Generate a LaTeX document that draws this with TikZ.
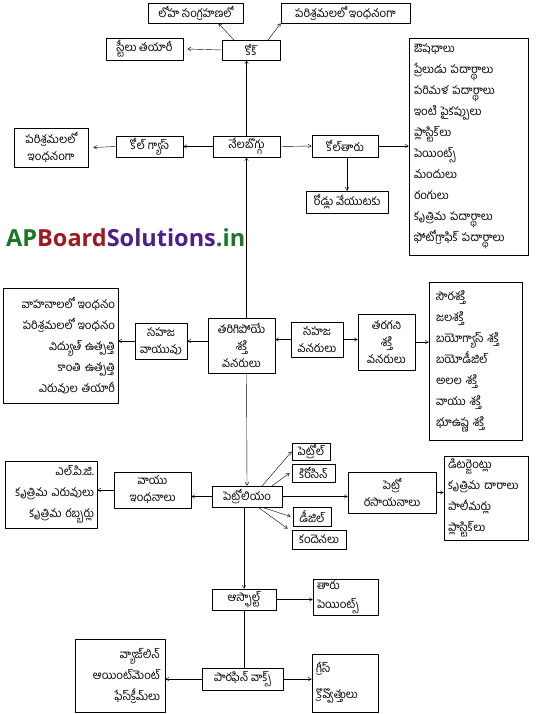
\documentclass[tikz,border=0pt]{standalone}
\usepackage{fontspec}
\newfontfamily\telugu[Script=Telugu]{Hind Guntur}
\newfontfamily\wmfont{Open Sans}
\usetikzlibrary{arrows}
\definecolor{apgreen}{RGB}{28,118,40}
\definecolor{apred}{RGB}{160,24,34}
\definecolor{appurple}{RGB}{78,30,140}

\begin{document}
\begin{tikzpicture}[line cap=round,line join=round,>=angle 60,x=1pt,y=-1pt,
  blk/.style={draw,line width=0.7pt,inner sep=1.5pt,font=\telugu\fontsize{11.5}{17}\selectfont},
  lst/.style={blk,inner xsep=4pt,font=\telugu\fontsize{11.5}{21}\selectfont},
  con/.style={->,line width=0.4pt}]
\useasboundingbox (0,0) rectangle (537,714);

% coal
\node[blk,minimum width=95pt,minimum height=20pt] (loha) at (195.5,13) {లోహ సంగ్రహణలో};
\node[blk,minimum width=129pt,minimum height=20pt] (ind1) at (345.5,13) {పరిశ్రమలలో ఇంధనంగా};
\node[blk,minimum width=77pt,minimum height=22pt] (steel) at (144.5,49) {స్టీలు తయారీ};
\node[blk,minimum width=58pt,minimum height=20pt] (coke) at (251,50) {కోక్};
\node[blk,minimum width=74pt,minimum height=39pt,align=center] (ind2) at (51,147.5) {పరిశ్రమలలో\\ఇంధనంగా};
\node[blk,minimum width=67pt,minimum height=21pt] (coalgas) at (149.5,146.5) {కోల్ గ్యాస్};
\node[blk,minimum width=67pt,minimum height=21pt] (nela) at (246.5,146.5) {నేలబొగ్గు};
\node[blk,minimum width=66pt,minimum height=22pt] (koltar) at (345,146) {కోల్‌తారు};
\node[blk,minimum width=82pt,minimum height=22pt] (roads) at (347,202) {రోడ్లు వేయుటకు};
\node[lst,inner xsep=5pt,text width=109pt,minimum height=217pt,align=left] (tarlist) at (468.5,146.5)
  {ఔషధాలు\\ప్రేలుడు పదార్థాలు\\పరిమళ పదార్థాలు\\ఇంటి పైకప్పులు\\ప్లాస్టిక్‌లు\\పెయింట్స్\\మందులు\\రంగులు\\కృత్రిమ పదార్థాలు\\ఫోటోగ్రాఫిక్ పదార్థాలు};

\node[anchor=west,inner sep=0pt,font=\wmfont\bfseries\fontsize{23.5}{23.5}\selectfont] (wm) at (6,238)
  {\textcolor{apgreen}{AP}\textcolor{apred}{Board}\textcolor{appurple}{Solutions}\textcolor{apgreen}{.in}};

% energy resources
\node[blk,minimum width=67pt,minimum height=55pt,align=center] (tarigi) at (241.5,345.5) {తరిగిపోయే\\శక్తి\\వనరులు};
\node[blk,minimum width=52pt,minimum height=36pt,align=center] (vayuvu) at (161,341) {సహజ\\వాయువు};
\node[lst,inner xsep=3pt,text width=109pt,minimum height=115pt,align=right] (vayulist) at (60.5,345.5)
  {వాహనాలలో ఇంధనం\\పరిశ్రమలలో ఇంధనం\\విద్యుత్ ఉత్పత్తి\\కాంతి ఉత్పత్తి\\ఎరువుల తయారీ};
\node[blk,minimum width=52pt,minimum height=35pt,align=center] (sahaja) at (317,339.5) {సహజ\\వనరులు};
\node[blk,minimum width=57pt,minimum height=56pt,align=center] (taragani) at (386.5,342) {తరగని\\శక్తి\\వనరులు};
\node[lst,inner xsep=7pt,text width=79pt,minimum height=158pt,align=left] (taraganilist) at (475.5,361)
  {సౌరశక్తి\\జలశక్తి\\బయోగ్యాస్ శక్తి\\బయోడీజిల్\\అలల శక్తి\\వాయు శక్తి\\భూఉష్ణ శక్తి};

% petroleum
\node[blk,minimum width=70pt,minimum height=21pt] (petroleum) at (247,496.5) {పెట్రోలియం};
\node[blk,minimum width=77pt,minimum height=36pt,align=center] (vayuind) at (152.5,490) {వాయు\\ఇంధనాలు};
\node[lst,inner xsep=3pt,text width=86pt,minimum height=67pt,align=right] (vayuindlist) at (51,494.5)
  {ఎల్.పి.జి.\\కృత్రిమ ఎరువులు\\కృత్రిమ రబ్బర్లు};
\node[blk,minimum width=38pt,minimum height=17pt,inner sep=1pt] (petrol) at (311,451.5) {పెట్రోల్};
\node[blk,minimum width=43pt,minimum height=18pt,inner sep=1pt] (kerosene) at (313.5,473) {కిరోసిన్};
\node[blk,minimum width=38pt,minimum height=19pt,inner sep=1pt] (diesel) at (312,516.5) {డీజిల్};
\node[blk,minimum width=54pt,minimum height=19pt,inner sep=1pt] (lubricant) at (319,539.5) {కందెనలు};
\node[blk,minimum width=88pt,minimum height=41pt,align=center] (petrochem) at (392,492.5) {పెట్రో\\రసాయనాలు};
\node[lst,text width=76pt,minimum height=84pt,align=left] (petrochemlist) at (486,498)
  {డిటర్జెంట్లు\\కృత్రిమ దారాలు\\పాలీమర్లు\\ప్లాస్టిక్‌లు};
\node[blk,minimum width=64pt,minimum height=21pt] (asphalt) at (244,599.5) {ఆస్ఫాల్ట్};
\node[lst,text width=57pt,minimum height=35pt,align=left,font=\telugu\fontsize{11.5}{19}\selectfont] (tarpaint) at (345.5,597.5) {తారు\\పెయింట్స్};
\node[blk,minimum width=81pt,minimum height=22pt] (paraffin) at (242.5,679) {పారఫిన్ వాక్స్};
\node[lst,inner xsep=5pt,text width=80pt,minimum height=73pt,align=right] (paraffinlist) at (120,675.5)
  {వ్యాజ్‌లిన్\\ఆయింట్‌మెంట్\\ఫేస్‌క్రీమ్‌లు};
\node[lst,text width=58pt,minimum height=58pt,align=left,font=\telugu\fontsize{11.5}{26}\selectfont] (grease) at (345,683) {గ్రీస్\\క్రొవ్వొత్తులు};

% connectors
\draw[con] ([xshift=12pt]coke.north west) -- ([xshift=-25pt]loha.south east);
\draw[con] ([xshift=-12pt]coke.north east) -- (ind1.south west);
\draw[con] (coke.west) -- ([xshift=4pt]steel.east);
\draw[con] (nela.north) -- (nela.north |- coke.south);
\draw[con] (nela.west) -- (coalgas.east);
\draw[con] (coalgas.west) -- ([xshift=5pt]ind2.east);
\draw[con] (nela.east) -- (koltar.west);
\draw[con] (koltar.east) -- (koltar.east -| tarlist.west);
\draw[con] (koltar.south -| roads.north) -- (roads.north);
\draw[con] (nela.south |- tarigi.north) -- (nela.south);
\draw[con] (nela.south |- tarigi.south) -- (petroleum.north);
\draw[con] (sahaja.west) -- (sahaja.west -| tarigi.east);
\draw[con] (sahaja.east) -- (sahaja.east -| taragani.west);
\draw[con] (taragani.east) -- (taragani.east -| taraganilist.west);
\draw[con] (tarigi.west |- vayuvu.east) -- (vayuvu.east);
\draw[con] (vayuvu.west) -- (vayuvu.west -| vayulist.east);
\draw[con] (petroleum.west) -- (petroleum.west -| vayuind.east);
\draw[con] (vayuind.west) -- (vayuind.west -| vayuindlist.east);
\draw[con] ([xshift=-20pt]petroleum.north east) -- (petrol.west);
\draw[con] ([xshift=-10pt]petroleum.north east) -- ([xshift=-2pt]kerosene.west);
\draw[con] ([xshift=-20pt]petroleum.south east) -- ([xshift=-2pt]diesel.west);
\draw[con] ([xshift=-24pt]petroleum.south east) -- ([xshift=-4pt,yshift=1pt]lubricant.north west);
\draw[con] (petroleum.east) -- (petroleum.east -| petrochem.west);
\draw[con] (petrochem.east) -- (petrochem.east -| petrochemlist.west);
\draw[con] (asphalt.north |- petroleum.south) -- (asphalt.north);
\draw[con] (asphalt.east) -- (asphalt.east -| tarpaint.west);
\draw[line width=0.4pt] (asphalt.south) -- (asphalt.south |- paraffin.north);
\draw[con] (paraffin.west) -- (paraffin.west -| paraffinlist.east);
\draw[con] (paraffin.east) -- (paraffin.east -| grease.west);
\end{tikzpicture}
\end{document}
